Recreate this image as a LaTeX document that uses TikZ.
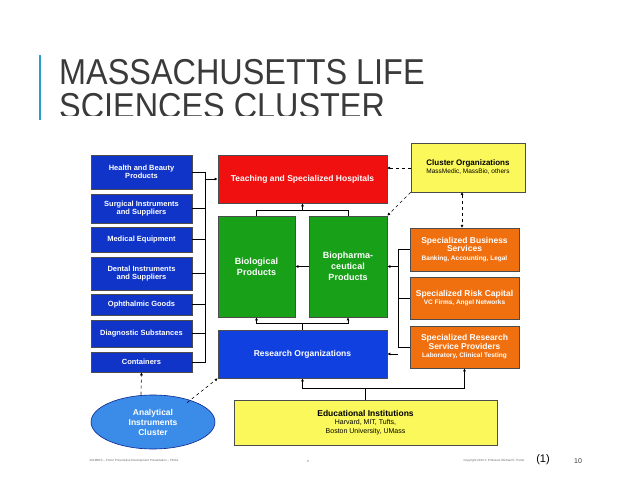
\documentclass[tikz,border=0pt]{standalone}
\usepackage{fontspec}
\setmainfont{Liberation Sans}
\usetikzlibrary{arrows.meta,shapes.geometric}
\definecolor{dblue}{HTML}{1034C8}
\definecolor{hred}{HTML}{F01010}
\definecolor{pgreen}{HTML}{18A018}
\definecolor{rblue}{HTML}{1040E0}
\definecolor{cyel}{HTML}{FAF85A}
\definecolor{sorange}{HTML}{F07010}
\definecolor{eblue}{HTML}{3A8CE8}
\definecolor{ttl}{HTML}{3A3A3A}
\definecolor{bar}{HTML}{2AA0C8}
\tikzset{
 box/.style={draw=black!70,line width=0.6pt,minimum width=#1,inner sep=1pt,align=center,font=\fontsize{7.5}{8.5}\selectfont\bfseries,text=white},
 lbox/.style={box=101pt,fill=dblue},
 con/.style={line width=0.6pt,-{Latex[length=3pt,width=3pt]}},
 dcon/.style={con,dashed},
 ln/.style={line width=0.6pt},
 ttlf/.style={anchor=west,text=ttl,font=\fontsize{36}{38}\selectfont,inner sep=0,xscale=0.9}
}
\begin{document}
\begin{tikzpicture}[x=1pt,y=-1pt]
\useasboundingbox (0,0) rectangle (638,478);
\fill[white] (0,0) rectangle (638,478);
\fill[bar] (39,55) rectangle (41,120);
\node[ttlf] (t1) at (59,72) {MASSACHUSETTS LIFE};
\node[ttlf] (t2) at (59,106) {SCIENCES CLUSTER};
\fill[white] (50,116) rectangle (460,135);
% left boxes
\node[lbox,minimum height=34pt] (hb) at (141.5,172) {Health and Beauty\\Products};
\node[lbox,minimum height=29pt] (si) at (141.5,208.5) {Surgical Instruments\\and Suppliers};
\node[lbox,minimum height=25pt] (me) at (141.5,239.5) {Medical Equipment};
\node[lbox,minimum height=33pt] (di) at (141.5,273.5) {Dental Instruments\\and Suppliers};
\node[lbox,minimum height=21pt] (og) at (141.5,304.5) {Ophthalmic Goods};
\node[lbox,minimum height=27pt] (ds) at (141.5,333.5) {Diagnostic Substances};
\node[lbox,minimum height=20pt] (ct) at (141.5,362) {Containers};
% center
\node[box=169pt,minimum height=48pt,fill=hred,font=\fontsize{8.5}{9.5}\selectfont\bfseries] (th) at (302.5,179) {Teaching and Specialized Hospitals};
\node[box=77pt,minimum height=101pt,fill=pgreen,font=\fontsize{9}{11}\selectfont\bfseries] (bp) at (256.5,266.5) {Biological\\Products};
\node[box=78pt,minimum height=101pt,fill=pgreen,font=\fontsize{9}{11}\selectfont\bfseries] (bph) at (348,266.5) {Biopharma-\\ceutical\\Products};
\node[box=169pt,minimum height=48pt,fill=rblue,font=\fontsize{8.5}{9.5}\selectfont\bfseries] (ro) at (302.5,354) {Research Organizations};
% right
\node[box=114pt,minimum height=49pt,fill=cyel,text=black,font=\fontsize{6.5}{8}\selectfont] (co) at (468,167.5) {\textbf{\fontsize{8}{9}\selectfont Cluster Organizations}\\\mdseries MassMedic, MassBio, others};
\node[box=109pt,minimum height=43pt,fill=sorange] (bs) at (464.5,249.5) {{\fontsize{8.5}{10}\selectfont Specialized Business}\\{\fontsize{8.5}{10}\selectfont Services}\\{\fontsize{6.5}{7.5}\selectfont Banking, Accounting, Legal}};
\node[box=109pt,minimum height=42pt,fill=sorange] (rc) at (464.5,298) {{\fontsize{8.5}{10}\selectfont Specialized Risk Capital}\\{\fontsize{6.5}{7.5}\selectfont VC Firms, Angel Networks}};
\node[box=109pt,minimum height=42pt,fill=sorange] (rs) at (464.5,347) {{\fontsize{8.5}{10}\selectfont Specialized Research}\\{\fontsize{8.5}{10}\selectfont Service Providers}\\{\fontsize{6.5}{7.5}\selectfont Laboratory, Clinical Testing}};
\node[box=263pt,minimum height=45pt,fill=cyel,text=black,font=\fontsize{7}{8.5}\selectfont] (ei) at (365.5,422.5) {\textbf{\fontsize{8.5}{10}\selectfont Educational Institutions}\\\mdseries Harvard, MIT, Tufts,\\\mdseries Boston University, UMass};
\node[ellipse,draw=dblue!70!black,line width=0.6pt,fill=eblue,minimum width=124pt,minimum height=54pt,align=center,text=white,font=\fontsize{8.5}{10}\selectfont\bfseries,inner sep=0] (ac) at (153,422) {Analytical\\Instruments\\Cluster};
% left bus
\coordinate (lb1) at (205,172);
\coordinate (lb2) at (205,362);
\draw[ln] (hb.east) -- (lb1) -- (lb2) -- (ct.east);
\foreach \n in {si,me,di,og,ds} \draw[ln] (\n.east) -- (\n.east -| lb1);
\draw[con] (205,179) -- (th.west);
% hospital-products
\draw[ln] (bp.north) -- (256.5,210) -- (348,210) -- (bph.north);
\draw[con] (302.5,210) -- (th.south);
\draw[con] (bph.west) -- (bp.east);
\draw[ln] (ro.north) -- (302.5,323);
\draw[con] (302.5,323) -| (bp.south);
\draw[con] (302.5,323) -| (bph.south);
% right bus
\coordinate (rb1) at (398,249.5);
\coordinate (rb2) at (398,347);
\draw[ln] (bs.west) -- (rb1) -- (rb2) -- (rs.west);
\draw[ln] (rc.west) -- (rc.west -| rb1);
\draw[con] (398,266.5) -- (bph.east);
\draw[con] (398,354) -- (ro.east);
% dashed
\draw[dcon] (co.west |- th.east) ++(0,-11) coordinate (c1) -- (387,168);
\draw[dcon] (co.south west) -- (bph.north east);
\draw[dcon,{Latex[length=3pt,width=3pt]}-{Latex[length=3pt,width=3pt]}] (462,192) -- (462,228);
\draw[dcon] (ac.north) ++(-12,0) -- (ct.south);
\draw[dcon] (ac.north east) ++(-10,0) -- (ro.south west);
% educational
\draw[ln] (ei.north) -- (365.5,388);
\draw[con] (365.5,388) -| (ro.south);
\draw[con] (365.5,388) -| (rs.south);
% footer
\node[font=\fontsize{3}{3}\selectfont,text=black!60,anchor=west] (f1) at (86,461) {2014BOS -- Porter Prescriptive Development Presentation -- FINAL};
\node[font=\fontsize{3}{3}\selectfont,text=black!60] (f2) at (308,461) {8};
\node[font=\fontsize{3}{3}\selectfont,text=black!60,anchor=east] (f3) at (528,461) {Copyright 2014 \copyright\ Professor Michael E. Porter};
\node[font=\fontsize{11}{12}\selectfont] (n1) at (543,460) {(1)};
\node[font=\fontsize{7}{8}\selectfont,text=ttl] (n2) at (578,461) {10};
\end{tikzpicture}
\end{document}
